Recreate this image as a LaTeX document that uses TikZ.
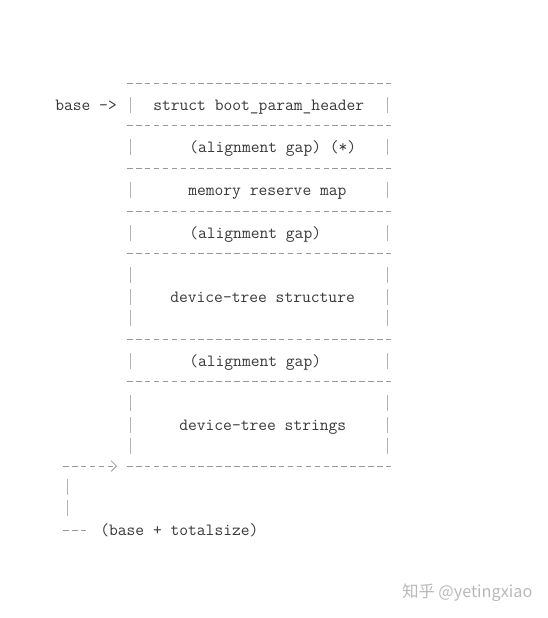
\documentclass[tikz,border=0pt]{standalone}
\usepackage{fontspec}
\newfontfamily\cjkfont{Noto Sans CJK SC}
\usetikzlibrary{arrows.meta, calc}

\begin{document}
\begin{tikzpicture}[
	x=0.75pt, y=-0.75pt,
	region/.style={anchor=base west, inner sep=0pt, text=black!78, font=\fontsize{12.8}{15}\selectfont\ttfamily},
	sepline/.style={draw=black!40, line width=0.6pt, dash pattern=on 4.2pt off 2.5pt},
	barline/.style={draw=black!30, line width=0.5pt},
	note/.style={anchor=base west, inner sep=0pt, text=black!28, font=\cjkfont\fontsize{12.2}{14}\selectfont}
]
	\useasboundingbox (0,0) rectangle (547,618);

	% separators between the blocks
	\foreach \y in {83,125,168,211,253,339,381,466}
		\draw[sepline] (127,\y) -- (391,\y);
	% side bars of every text row
	\foreach \y in {105,147,190,233,275,297,318,361,403,425,446} {
		\draw[barline] (130,\y-8) -- (130,\y+8);
		\draw[barline] (387,\y-8) -- (387,\y+8);
	}

	\node[region] (base) at (55,110) {base ->};
	\node[region] (header) at (153,110) {struct boot\_param\_header};
	\node[region] (gapA) at (189,152) {(alignment gap) (*)};
	\node[region] (rsvmap) at (188,195) {memory reserve map};
	\node[region] (gapB) at (189,238) {(alignment gap)};
	\node[region] (dtstruct) at (170,302) {device-tree structure};
	\node[region] (gapC) at (189,366) {(alignment gap)};
	\node[region] (dtstrings) at (179,430) {device-tree strings};
	\node[region] (total) at (100,535) {(base + totalsize)};

	% pointer from the end label back to the end of the blob
	\coordinate (tail) at (63,530);
	\coordinate (bend) at (63,466);
	\coordinate (hit) at (117,466);
	\draw[sepline, shorten >=8pt] (tail) -- (tail -| total.west);
	\foreach \y in {487,508}
		\draw[barline] (67,\y-8) -- (67,\y+8);
	\draw[sepline, -{Straight Barb[length=4pt, width=8pt]}] (bend) -- (hit);

	\node[note] (mark) at (402,597) {知乎 @yetingxiao};
\end{tikzpicture}
\end{document}
